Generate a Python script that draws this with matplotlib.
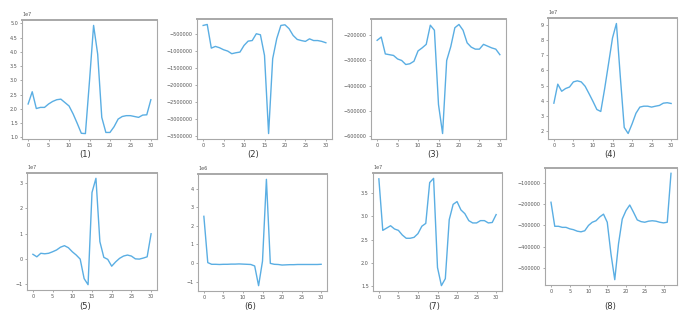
import matplotlib
matplotlib.use("Agg")
from matplotlib import pyplot as plt

# 数据 (每个子图一条曲线)
s1 = [2.17, 2.6, 2.01, 2.05, 2.05, 2.17, 2.26, 2.32, 2.34, 2.22, 2.1, 1.82, 1.49, 1.14, 1.13, 2.98,
      4.93, 3.92, 1.7, 1.17, 1.17, 1.37, 1.64, 1.73, 1.76, 1.76, 1.73, 1.7, 1.78, 1.79, 2.32]
s1 = [v * 1e7 for v in s1]
s2 = [-255000, -226000, -923000, -873000, -912000, -971000, -1010000, -1088000, -1060000, -1040000,
      -844000, -717000, -700000, -500000, -530000, -1138000, -3440000, -1235000, -640000, -255000,
      -236000, -350000, -550000, -667000, -700000, -725000, -650000, -700000, -700000, -725000, -765000]
s3 = [-220000, -207000, -274000, -277000, -280000, -294000, -300000, -316000, -313000, -303000,
      -262000, -250000, -236000, -160000, -180000, -475000, -590000, -300000, -245000, -170000,
      -157000, -180000, -230000, -247000, -255000, -255000, -236000, -243000, -250000, -255000, -277000]
s4 = [3.83, 5.09, 4.62, 4.8, 4.9, 5.24, 5.31, 5.24, 4.95, 4.46, 3.95, 3.41, 3.28, 4.8, 6.47, 8.15,
      9.11, 5.58, 2.22, 1.82, 2.45, 3.16, 3.57, 3.63, 3.63, 3.57, 3.63, 3.68, 3.83, 3.86, 3.81]
s4 = [v * 1e7 for v in s4]
s5 = [0.19, 0.09, 0.23, 0.21, 0.23, 0.29, 0.36, 0.47, 0.53, 0.45, 0.29, 0.16, 0.0, -0.77, -1.01, 2.63,
      3.19, 0.69, 0.07, -0.01, -0.28, -0.11, 0.03, 0.12, 0.16, 0.12, 0.01, 0.0, 0.04, 0.09, 1.0]
s5 = [v * 1e7 for v in s5]
s6 = [2.51, 0.02, -0.07, -0.07, -0.08, -0.07, -0.07, -0.06, -0.06, -0.05, -0.06, -0.07, -0.08, -0.16,
      -1.22, 0.1, 4.5, -0.02, -0.07, -0.08, -0.11, -0.1, -0.09, -0.09, -0.08, -0.08, -0.08, -0.08,
      -0.08, -0.08, -0.07]
s6 = [v * 1e6 for v in s6]
s7 = [3.81, 2.7, 2.75, 2.8, 2.73, 2.7, 2.6, 2.53, 2.53, 2.55, 2.63, 2.79, 2.85, 3.73, 3.82, 1.9,
      1.51, 1.66, 2.93, 3.26, 3.32, 3.14, 3.06, 2.91, 2.86, 2.86, 2.91, 2.91, 2.86, 2.87, 3.04]
s7 = [v * 1e7 for v in s7]
s8 = [-191000, -304000, -304000, -309000, -309000, -316000, -320000, -327000, -330000, -325000,
      -300000, -285000, -278000, -260000, -247000, -285000, -435000, -555000, -387000, -270000,
      -230000, -204000, -238000, -274000, -282000, -285000, -280000, -278000, -280000, -285000,
      -288000, -285000, -55000]

series = [s1, s2, s3, s4, s5, s6, s7, s8]
captions = ["(1)", "(2)", "(3)", "(4)", "(5)", "(6)", "(7)", "(8)"]
yticks = [
    [1.0e7, 1.5e7, 2.0e7, 2.5e7, 3.0e7, 3.5e7, 4.0e7, 4.5e7, 5.0e7],
    [-500000, -1000000, -1500000, -2000000, -2500000, -3000000, -3500000],
    [-200000, -300000, -400000, -500000, -600000],
    [2e7, 3e7, 4e7, 5e7, 6e7, 7e7, 8e7, 9e7],
    [-1e7, 0, 1e7, 2e7, 3e7],
    [-1e6, 0, 1e6, 2e6, 3e6, 4e6],
    [1.5e7, 2.0e7, 2.5e7, 3.0e7, 3.5e7],
    [-100000, -200000, -300000, -400000, -500000],
]
sci = [7, None, None, 7, 7, 6, 7, None]

# 子图位置 (像素: 左, 右, 上, 下) 和标题中心
W, H = 685, 316
boxes = [(22, 157, 20, 139), (197, 332, 19, 139), (371, 506, 19, 139), (548, 677, 18, 139),
         (27, 157, 173, 290), (198, 327, 174, 291), (373, 502, 173, 291), (545, 677, 168, 285)]
cap_pos = [(85, 155), (253, 155), (433, 155), (610, 155),
           (85, 306), (250, 306), (434, 306), (610, 307)]

fig = plt.figure(figsize=(W / 100, H / 100), dpi=100)

for i in range(8):
    l, r, t, b = boxes[i]
    ax = fig.add_axes([l / W, (H - b) / H, (r - l) / W, (b - t) / H])
    ax.plot(range(len(series[i])), series[i], color="#5aaee3", linewidth=1.0)
    ax.set_xticks(range(0, 31, 5))
    ax.set_yticks(yticks[i])
    if sci[i] is None:
        ax.ticklabel_format(axis="y", style="plain", useOffset=False)
    else:
        ax.ticklabel_format(axis="y", style="sci", scilimits=(sci[i], sci[i]))
        ax.yaxis.get_offset_text().set_fontsize(3.5)
        ax.yaxis.get_offset_text().set_color("#555555")
    ax.tick_params(labelsize=3.5, length=1.5, width=0.5, colors="#888888", labelcolor="#555555", pad=1.5)
    for sp in ax.spines.values():
        sp.set_color("#a8a8a8")
        sp.set_linewidth(0.8)
    ax.spines["top"].set_linewidth(1.4)
    fig.text(cap_pos[i][0] / W, 1 - cap_pos[i][1] / H, captions[i], ha="center", va="center",
             fontsize=6, color="#333333")

fig.savefig("out.png", dpi=100, facecolor="white")
